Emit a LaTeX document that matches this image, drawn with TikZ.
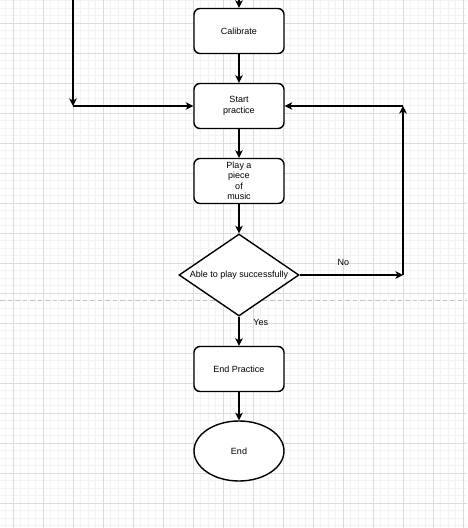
\documentclass[tikz,border=0pt]{standalone}
\usepackage{fontspec}
\setmainfont{Liberation Sans}
\usetikzlibrary{arrows.meta,shapes.geometric}
\definecolor{gridmajor}{HTML}{DCDCDC}
\definecolor{gridminor}{HTML}{F3F3F3}
\definecolor{pagebreak}{HTML}{C4C4C4}
\tikzset{
  proc/.style={draw, line width=1.4pt, fill=white, rounded corners=6pt,
    minimum width=90pt, minimum height=45pt, inner sep=0pt, align=center,
    font=\fontsize{9}{10.5}\selectfont},
  decis/.style={draw, line width=1.4pt, fill=white, diamond, minimum width=120pt,
    minimum height=82pt, inner sep=0pt},
  term/.style={draw, line width=1.4pt, fill=white, ellipse, minimum width=90pt,
    minimum height=60pt, inner sep=0pt, font=\fontsize{9}{10.5}\selectfont},
  txt/.style={inner sep=0pt, font=\fontsize{9}{10.5}\selectfont},
  arr/.style={line width=1.4pt, -{Stealth[length=7.5pt,width=7.5pt,inset=2pt]}},
}
\begin{document}
\begin{tikzpicture}[x=1pt,y=1pt]
\useasboundingbox (0,0) rectangle (467,-528);
\fill[white] (0,0) rectangle (467,-528);
% minor grid
\foreach \i in {0,...,62} {
  \draw[gridminor, line width=0.8pt] ({5.83+7.5*\i},0) -- ({5.83+7.5*\i},-528);
}
\foreach \i in {0,...,70} {
  \draw[gridminor, line width=0.8pt] (0,{-0.83-7.5*\i}) -- (467,{-0.83-7.5*\i});
}
% major grid
\foreach \i in {0,...,15} {
  \draw[gridmajor, line width=1pt] ({13.33+30*\i},0) -- ({13.33+30*\i},-528);
}
\foreach \i in {0,...,16} {
  \draw[gridmajor, line width=1pt] (0,{-23.33-30*\i}) -- (467,{-23.33-30*\i});
}
% page break
\draw[pagebreak, line width=1pt, dash pattern=on 4.5pt off 3pt] (0,-300.7) -- (467,-300.7);

% nodes
\node[proc] (cal) at (239,-31) {Calibrate};
\node[proc] (start) at (239,-106) {Start\\practice};
\node[proc] (play) at (239,-181) {Play a\\piece\\of\\music};
\node[decis] (dia) at (239,-275) {};
\node[txt] (diatxt) at (dia.center) {Able to play successfully};
\node[proc] (endp) at (239,-369) {End Practice};
\node[term] (endn) at (239,-451) {End};

\coordinate (topc) at (239,0);
\coordinate (topl) at (73,0);
\coordinate (lj) at (73,-106);
\coordinate (rj1) at (403,-275);
\coordinate (rj2) at (403,-106);

% connectors
\draw[arr] (topc) -- (cal.north);
\draw[arr] (cal) -- (start);
\draw[arr] (start) -- (play);
\draw[arr] (play) -- (dia.north);
\draw[arr] (dia.south) -- (endp.north);
\draw[arr] (endp) -- (endn);
\draw[arr] (topl) -- (lj);
\draw[arr] (lj) -- (start.west);
\draw[arr] (dia.east) -- (rj1);
\draw[arr] (rj1) -- (rj2);
\draw[arr] (rj2) -- (start.east);

\node[txt] (no) at (343.3,-262.7) {No};
\node[txt] (yes) at (260.7,-322.7) {Yes};
\end{tikzpicture}
\end{document}
